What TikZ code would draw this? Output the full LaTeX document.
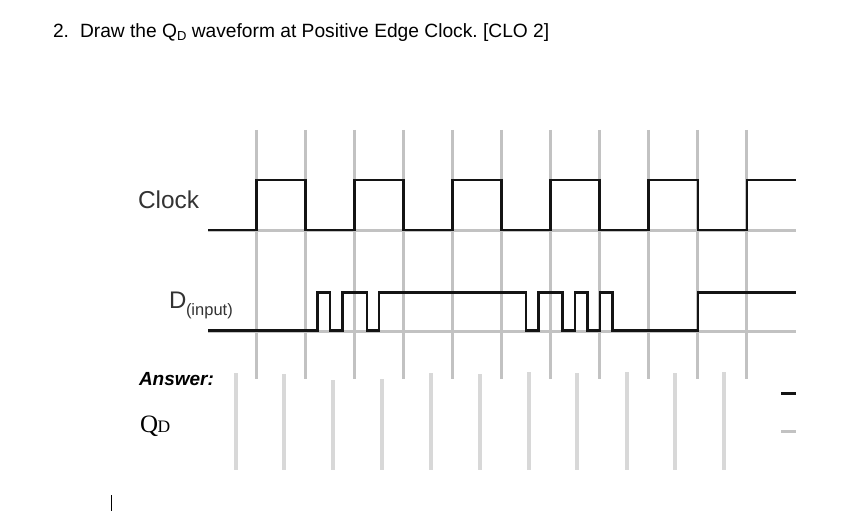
\documentclass[tikz,border=0pt]{standalone}
\usepackage{fontspec}
\setmainfont{Liberation Sans}
\newfontfamily\qfont{Liberation Serif}
\definecolor{gridup}{HTML}{C2C2C2}
\definecolor{gridlow}{HTML}{D8D8D8}
\definecolor{wavecol}{HTML}{141414}
\frenchspacing
\tikzset{
  gridline/.style={gridup,line width=3pt},
  answerline/.style={gridlow,line width=4pt},
  wave/.style={wavecol,line width=2.8pt,line join=miter},
  lab/.style={anchor=base west,inner sep=0pt,outer sep=0pt,text=black}
}
\begin{document}
\begin{tikzpicture}[x=1pt,y=-1pt]
  \useasboundingbox[fill=white] (0,0) rectangle (866,521);
  % grid
  \foreach \t in {0,...,10}
    \draw[gridline] ({256.6+49.03*\t},130) -- ({256.6+49.03*\t},379);
  \draw[gridline] (208,230) -- (796,230);
  \draw[gridline] (208,331) -- (796,331);
  \foreach \x/\y in {235.7/373,284/374,333/380,382/379,431/373,480/374,529/372,577/373,627/372,675/373,724/372}
    \draw[answerline] (\x,\y) -- (\x,470);
  % waveforms
  \draw[wave] (208,230) -- (256.6,230) -- (256.6,180) -- (305.6,180) -- (305.6,230)
    -- (354.7,230) -- (354.7,180) -- (403.7,180) -- (403.7,230)
    -- (452.7,230) -- (452.7,180) -- (501.8,180) -- (501.8,230)
    -- (550.8,230) -- (550.8,180) -- (599.8,180) -- (599.8,230)
    -- (648.8,230) -- (648.8,180) -- (697.9,180) -- (697.9,230)
    -- (746.9,230) -- (746.9,180) -- (796,180);
  \draw[wave] (208,330.5) -- (317.7,330.5) -- (317.7,292.7) -- (330,292.7) -- (330,330.5)
    -- (342.3,330.5) -- (342.3,292.7) -- (367,292.7) -- (367,330.5)
    -- (379,330.5) -- (379,292.7) -- (526,292.7) -- (526,330.5)
    -- (538.3,330.5) -- (538.3,292.7) -- (562.7,292.7) -- (562.7,330.5)
    -- (575,330.5) -- (575,292.7) -- (587.7,292.7) -- (587.7,330.5)
    -- (600,330.5) -- (600,292.7) -- (612.3,292.7) -- (612.3,330.5)
    -- (698,330.5) -- (698,292.7) -- (796,292.7);
  % stray marks
  \draw[wave,line width=3pt] (781,393.3) -- (796,393.3);
  \draw[gridline] (781,431) -- (796,431);
  \draw[black,line width=1pt] (111.5,495) -- (111.5,511);
  % labels
  \node[lab,font=\fontsize{19.2}{21}\selectfont] (num) at (53,38) {2.};
  \node[lab,font=\fontsize{19.2}{21}\selectfont] (title) at (80,38) {Draw the Q\raisebox{-2.5pt}{\fontsize{13}{14}\selectfont D} waveform at Positive Edge Clock. [CLO 2]};
  \node[lab,font=\fontsize{24.4}{26}\selectfont,text=black!80] (clock) at (138,208) {Clock};
  \node[lab,font=\fontsize{24}{26}\selectfont,text=black!80] (dlab) at (169,308) {D};
  \node[lab,font=\fontsize{16.5}{18}\selectfont,text=black!80] (dsub) at (186,315) {(input)};
  \node[lab,font=\fontsize{19}{21}\selectfont\bfseries\itshape] (answer) at (139,385) {Answer:};
  \node[lab,font=\qfont\fontsize{25}{27}\selectfont] (qlab) at (140,432) {Q};
  \node[lab,font=\qfont\fontsize{17.5}{19}\selectfont] (qsub) at (157.5,432) {D};
\end{tikzpicture}
\end{document}
